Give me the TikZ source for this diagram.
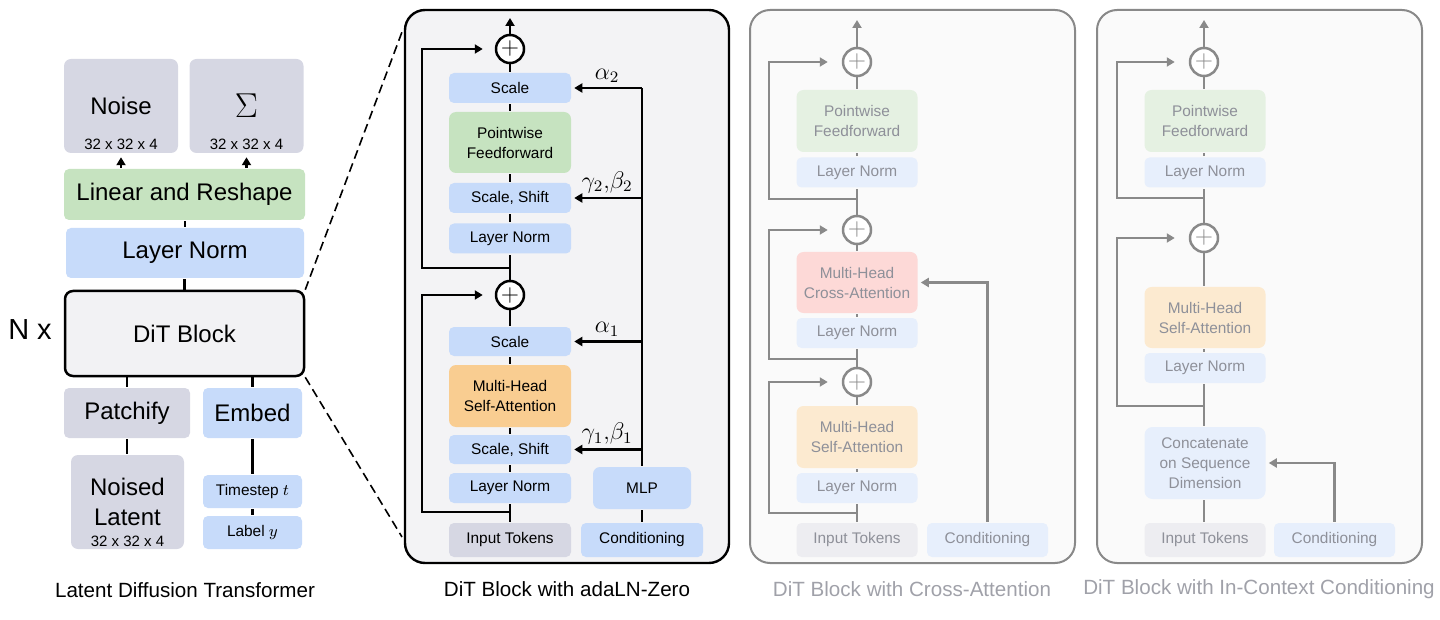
\documentclass[tikz,border=0pt]{standalone}
\usepackage{fontspec}
\setmainfont{Liberation Sans}
\usetikzlibrary{arrows.meta}

\definecolor{boxgray}{HTML}{D6D7E3}
\definecolor{boxgreen}{HTML}{C6E3C0}
\definecolor{boxblue}{HTML}{C7DBFA}
\definecolor{boxorange}{HTML}{F9CD91}
\definecolor{blockfill}{HTML}{F2F2F4}
\definecolor{panelfill}{HTML}{F3F3F5}
\definecolor{fadefill}{HTML}{FAFAFA}
\definecolor{fadeline}{HTML}{898989}
\definecolor{fadetext}{HTML}{8E9099}
\definecolor{fadecap}{HTML}{A0A1A9}
\definecolor{fgray}{HTML}{EDEDF1}
\definecolor{fgreen}{HTML}{E5F1E2}
\definecolor{fblue}{HTML}{E7EFFC}
\definecolor{fred}{HTML}{FDD9D7}
\definecolor{forange}{HTML}{FCEAD0}

\tikzset{
  bigtxt/.style={font=\fontsize{12}{15}\selectfont},
  midtxt/.style={font=\fontsize{7.7}{10}\selectfont},
  dimtxt/.style={font=\fontsize{7.5}{9}\selectfont},
  captxt/.style={font=\fontsize{10.3}{12}\selectfont},
  greektxt/.style={font=\fontsize{11.5}{12}\selectfont, inner sep=2pt},
  box/.style={rectangle, rounded corners=2.5pt, inner sep=0pt, align=center},
  lbox/.style={box, bigtxt},
  mbox/.style={box, midtxt, minimum width=61pt},
  fbox/.style={box, midtxt, minimum width=60.5pt, text=fadetext},
  plus/.style={circle, draw, fill=white, line width=1.25pt, minimum size=14pt,
    inner sep=0pt, font=\fontsize{12}{12}\selectfont},
  fplus/.style={plus, draw=fadeline, text=fadeline},
  arr/.style={-{Triangle[length=4pt,width=4.5pt]}},
  fline/.style={draw=fadeline}
}

\begin{document}
\begin{tikzpicture}[x=0.5pt, y=-0.5pt, line width=1.25pt]
\useasboundingbox (0,0) rectangle (1440,620);

% latent diffusion transformer
\node[lbox, fill=boxgray, minimum width=57pt, minimum height=47pt, rounded corners=3.5pt] (noise) at (121,106) {Noise};
\node[dimtxt] at ([yshift=5pt]noise.south) {32 x 32 x 4};
\node[lbox, fill=boxgray, minimum width=57pt, minimum height=47pt, rounded corners=3.5pt] (sigma) at (246.5,106) {\fontsize{17}{17}\selectfont$\Sigma$};
\node[dimtxt] at ([yshift=5pt]sigma.south) {32 x 32 x 4};
\node[lbox, fill=boxgreen, minimum width=120.5pt, minimum height=25.5pt] (linear) at (184.5,194.5) {Linear and Reshape};
\node[lbox, fill=boxblue, minimum width=119pt, minimum height=25pt] (lnorm) at (185,253) {Layer Norm};
\node[lbox, draw, fill=blockfill, minimum width=119.5pt, minimum height=42.5pt, rounded corners=4pt] (dit) at (184.5,333.5) {DiT Block};
\node[lbox, fill=boxgray, minimum width=63pt, minimum height=25pt] (patch) at (127,413) {Patchify};
\node[lbox, fill=boxblue, minimum width=49.5pt, minimum height=25pt] (embed) at (252.5,413) {Embed};
\node[lbox, fill=boxgray, minimum width=56.5pt, minimum height=47pt, rounded corners=3.5pt] (latent) at (127.5,502) {Noised\\Latent};
\node[dimtxt] at ([yshift=4.5pt]latent.south) {32 x 32 x 4};
\node[mbox, fill=boxblue, minimum width=49.5pt, minimum height=16.5pt] (tstep) at (252.5,491.5) {Timestep $t$};
\node[mbox, fill=boxblue, minimum width=49.5pt, minimum height=16.5pt] (label) at (252.5,532.5) {Label $y$};
\node[font=\fontsize{14.5}{16}\selectfont] (nx) at (30,330) {N x};
\node[captxt] at (185,590) {Latent Diffusion Transformer};

\draw[arr, shorten >=1.5pt] (noise |- linear.north) -- (noise.south);
\draw[arr, shorten >=1.5pt] (sigma |- linear.north) -- (sigma.south);
\draw (lnorm.north) -- (lnorm.north |- linear.south);
\draw (dit.north) -- (dit.north |- lnorm.south);
\draw (patch.north) -- (patch.north |- dit.south);
\draw (embed.north) -- (embed.north |- dit.south);
\draw (patch.south) -- (patch.south |- latent.north);
\draw (embed) -- (tstep);
\draw (tstep) -- (label);

% zoom lines
\coordinate (zoomT) at (402,32);
\coordinate (zoomB) at (402,537);
\draw[line width=0.8pt, dash pattern=on 4.5pt off 2.5pt] (dit.north east) -- (zoomT);
\draw[line width=0.8pt, dash pattern=on 4.5pt off 2.5pt] (dit.south east) -- (zoomB);

% adaLN-Zero block
\draw[line width=1.2pt, fill=panelfill, rounded corners=10pt] (405,10) rectangle (729,563);
\node[mbox, fill=boxgray, minimum height=17pt] (tokA) at (510,540) {Input Tokens};
\node[mbox, fill=boxblue, minimum height=15pt] (lnA) at (510,488) {Layer Norm};
\node[mbox, fill=boxblue, minimum height=14.5pt] (ssA) at (510,449.5) {Scale, Shift};
\node[mbox, fill=boxorange, minimum height=31pt, rounded corners=3.5pt] (attA) at (510,396) {Multi-Head\\Self-Attention};
\node[mbox, fill=boxblue, minimum height=14.5pt] (scA) at (510,341.5) {Scale};
\node[plus] (addA) at (510,295) {$+$};
\node[mbox, fill=boxblue, minimum height=15pt] (lnB) at (510,238.5) {Layer Norm};
\node[mbox, fill=boxblue, minimum height=15pt] (ssB) at (510,198) {Scale, Shift};
\node[mbox, fill=boxgreen, minimum height=30.5pt, rounded corners=3.5pt] (ffA) at (510,142.5) {Pointwise\\Feedforward};
\node[mbox, fill=boxblue, minimum height=15pt] (scB) at (510,88) {Scale};
\node[plus] (addB) at (510,49) {$+$};
\coordinate (outA) at (510,18);
\foreach \a/\b in {tokA/lnA, lnA/ssA, ssA/attA, attA/scA, scA/addA, addA/lnB, lnB/ssB, ssB/ffA, ffA/scB, scB/addB}
  \draw (\a) -- (\b);
\draw[arr] (addB) -- (outA);
\coordinate (skA) at (510,512);
\coordinate (skB) at (510,268);
\draw[arr, shorten >=6pt] (skA) -- (422,512) |- (addA);
\draw[arr, shorten >=6pt] (skB) -- (422,268) |- (addB);

\node[mbox, fill=boxblue, minimum height=17pt] (condA) at (642,540) {Conditioning};
\node[mbox, fill=boxblue, minimum width=49pt, minimum height=21pt, rounded corners=3.5pt] (mlp) at (642,488) {MLP};
\coordinate (mlptop) at (642,88);
\draw (condA) -- (mlp);
\draw (mlp) -- (mlptop);
\foreach \n/\y/\t in {scB/88/$\alpha_2$, ssB/198/{$\gamma_2,\!\beta_2$}, scA/341.5/$\alpha_1$, ssA/449.5/{$\gamma_1,\!\beta_1$}}
  \draw[arr, shorten >=1pt] (642,\y) -- (\n) node[midway, above, greektxt] {\t};
\node[captxt] at (567,589) {DiT Block with adaLN-Zero};

% cross-attention block
\draw[fline, line width=1pt, fill=fadefill, rounded corners=10pt] (750,10) rectangle (1075,563);
\node[fbox, fill=fgray, minimum height=17pt] (tokB) at (857,540) {Input Tokens};
\node[fbox, fill=fblue, minimum height=15pt] (lnC) at (857,488) {Layer Norm};
\node[fbox, fill=forange, minimum height=31pt, rounded corners=3.5pt] (attB) at (857,437) {Multi-Head\\Self-Attention};
\node[fplus] (addC) at (857,382) {$+$};
\node[fbox, fill=fblue, minimum height=15pt] (lnD) at (857,333) {Layer Norm};
\node[fbox, fill=fred, minimum height=30.5pt, rounded corners=3.5pt] (crossB) at (857,282.5) {Multi-Head\\Cross-Attention};
\node[fplus] (addD) at (857,230) {$+$};
\node[fbox, fill=fblue, minimum height=15pt] (lnE) at (857,172.5) {Layer Norm};
\node[fbox, fill=fgreen, minimum height=31pt, rounded corners=3.5pt] (ffB) at (857,121) {Pointwise\\Feedforward};
\node[fplus] (addE) at (857,62) {$+$};
\coordinate (outB) at (857,20);
\foreach \a/\b in {tokB/lnC, lnC/attB, attB/addC, addC/lnD, lnD/crossB, crossB/addD, addD/lnE, lnE/ffB, ffB/addE}
  \draw[fline] (\a) -- (\b);
\draw[fline, arr] (addE) -- (outB);
\coordinate (skC) at (857,513);
\coordinate (skD) at (857,359);
\coordinate (skE) at (857,199);
\draw[fline, arr, shorten >=7pt] (skC) -- (769,513) |- (addC);
\draw[fline, arr, shorten >=7pt] (skD) -- (769,359) |- (addD);
\draw[fline, arr, shorten >=7pt] (skE) -- (769,199) |- (addE);
\node[fbox, fill=fblue, minimum height=17pt] (condB) at (987.5,540) {Conditioning};
\draw[fline, arr, shorten >=1pt] (condB) |- (crossB);
\node[captxt, text=fadecap] at (912,589) {DiT Block with Cross-Attention};

% in-context block
\draw[fline, line width=1pt, fill=fadefill, rounded corners=10pt] (1097,10) rectangle (1422,563);
\node[fbox, fill=fgray, minimum height=17pt] (tokC) at (1205,540) {Input Tokens};
\node[fbox, fill=fblue, minimum height=36pt, rounded corners=4pt] (concat) at (1205,463) {Concatenate\\on Sequence\\Dimension};
\node[fbox, fill=fblue, minimum height=15pt] (lnF) at (1205,368) {Layer Norm};
\node[fbox, fill=forange, minimum height=30.5pt, rounded corners=3.5pt] (attC) at (1205,317.5) {Multi-Head\\Self-Attention};
\node[fplus] (addF) at (1204,238) {$+$};
\node[fbox, fill=fblue, minimum height=15pt] (lnG) at (1205,172.5) {Layer Norm};
\node[fbox, fill=fgreen, minimum height=31pt, rounded corners=3.5pt] (ffC) at (1205,121) {Pointwise\\Feedforward};
\node[fplus] (addG) at (1204,62) {$+$};
\coordinate (outC) at (1204,20);
\foreach \a/\b in {tokC/concat, concat/lnF, lnF/attC, attC/addF, addF/lnG, lnG/ffC, ffC/addG}
  \draw[fline] (\a.north -| addF) -- (\b.south -| addF);
\draw[fline, arr] (addG) -- (outC);
\coordinate (skF) at (1204,406);
\coordinate (skG) at (1204,198);
\draw[fline, arr, shorten >=7pt] (skF) -- (1117,406) |- (addF);
\draw[fline, arr, shorten >=7pt] (skG) -- (1117,198) |- (addG);
\node[fbox, fill=fblue, minimum height=17pt] (condC) at (1334.5,540) {Conditioning};
\draw[fline, arr, shorten >=1pt] (condC) |- (concat);
\node[captxt, text=fadecap] at (1259,589) {DiT Block with In-Context Conditioning};

\end{tikzpicture}
\end{document}
